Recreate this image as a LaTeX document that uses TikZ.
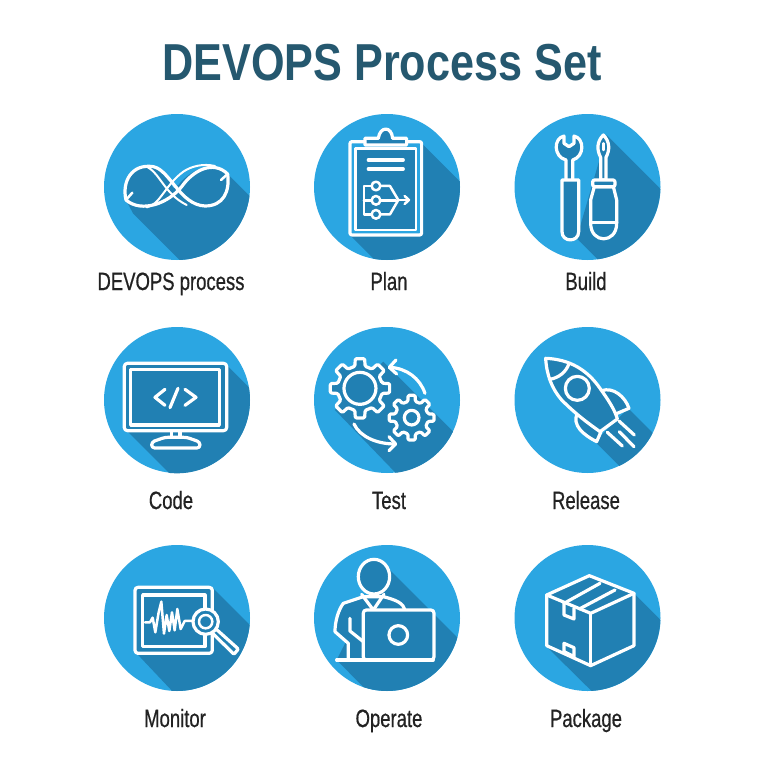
\documentclass[tikz,border=0pt]{standalone}
\usepackage{fontspec}
\newfontfamily\labfont[FakeStretch=0.74,FakeBold=0.6]{Liberation Sans}
\newfontfamily\headfont[FakeStretch=0.83]{Liberation Sans}
\definecolor{badgeblue}{HTML}{2BA6E2}
\definecolor{shadeblue}{HTML}{2180B3}
\definecolor{headcol}{HTML}{25586F}
\definecolor{labcol}{HTML}{222222}
\tikzset{
  badge/.style={circle,fill=badgeblue,minimum size=146pt,inner sep=0pt},
  lab/.style={anchor=base,text=labcol,font=\labfont\fontsize{25}{28}\selectfont},
  zoomed/.style 2 args={shift={(#1,#2)},x=0.3333pt,y=-0.3333pt},
  ink/.style={draw=white,line width=3.2pt,line join=round,line cap=round},
  inkin/.style={ink,fill=shadeblue},
  inkout/.style={ink,fill=badgeblue},
  thin ink/.style={ink,line width=2.5pt},
}
\usetikzlibrary{calc}
\newcommand{\gearicon}[5]{% x, y, tip radius, root radius, hole radius
  \draw[inkin,rounded corners=1.2pt] (#1,#2) ++(-13:#4)
    \foreach \a in {0,45,...,315} {
      -- ($(#1,#2)+(\a-13:#4)$) -- ($(#1,#2)+(\a-9:#3)$) -- ($(#1,#2)+(\a+9:#3)$) -- ($(#1,#2)+(\a+13:#4)$)
    } -- cycle;
  \draw[ink] (#1,#2) circle (#5);
}
\begin{document}
\begin{tikzpicture}[x=1pt,y=-1pt]
  \useasboundingbox (0,0) rectangle (768,768);
  \fill[white] (0,0) rectangle (768,768);
  \node (title) [anchor=base,text=headcol,font=\headfont\bfseries\fontsize{52}{56}\selectfont] at (382,81) {DEVOPS Process Set};

  % top row
  \node (devops) [badge] at (177,187) {};
  \node (plan) [badge] at (387,187) {};
  \node (build) [badge] at (587.5,187) {};
  \node (devopslab) [lab] at (171,290) {DEVOPS process};
  \node (planlab) [lab] at (389,290) {Plan};
  \node (buildlab) [lab] at (586,290) {Build};

  % middle row
  \node (code) [badge] at (177,400) {};
  \node (test) [badge] at (387,400) {};
  \node (release) [badge] at (587.5,400) {};
  \node (codelab) [lab] at (171,509) {Code};
  \node (testlab) [lab] at (389,509) {Test};
  \node (releaselab) [lab] at (586,509) {Release};

  % bottom row
  \node (monitor) [badge] at (177,618) {};
  \node (operate) [badge] at (387,618) {};
  \node (package) [badge] at (587.5,618) {};
  \node (monitorlab) [lab] at (175,727) {Monitor};
  \node (operatelab) [lab] at (389,727) {Operate};
  \node (packagelab) [lab] at (586,727) {Package};

  % infinity
  \begin{scope}[zoomed={115}{150}]
    \begin{scope}
      \clip (186,111) circle (219);
      \fill[shadeblue] (33,150) .. controls (20,95) and (50,40) .. (115,50) .. controls (140,55) and (160,85) .. (175,115) -- (190,105) .. controls (230,55) and (295,30) .. (338,72) -- (838,572) -- (554,690) -- (54,190) -- cycle;
    \end{scope}
    \draw[ink] (33,150) .. controls (20,95) and (50,40) .. (115,50) .. controls (165,60) and (195,165) .. (270,168) .. controls (325,168) and (345,125) .. (338,72);
    \draw[ink] (33,150) .. controls (80,190) and (160,160) .. (200,110) .. controls (235,60) and (295,30) .. (338,72);
    \draw[ink,line width=2pt] (90,48) .. controls (135,65) and (145,130) .. (215,165);
    \draw[ink,line width=2pt] (95,172) .. controls (135,165) and (150,105) .. (205,65) .. controls (230,48) and (265,40) .. (300,48);
    \draw[thin ink] (33,150) -- (52,128);
    \draw[thin ink] (338,72) -- (318,90);
  \end{scope}

  % clipboard
  \begin{scope}[zoomed={90}{100}]
    \begin{scope}
      \clip (891,261) circle (219);
      \fill[shadeblue] (780,405) -- (995,130) -- (1300,435) -- (1085,710) -- cycle;
    \end{scope}
    \draw[inkout,rounded corners=2pt] (780,125) rectangle (995,405);
    \draw[inkin,line width=2.4pt] (797,145) rectangle (978,390);
    \draw[inkin] (825,135) -- (825,115) -- (865,115) .. controls (870,78) and (905,78) .. (908,115) -- (950,115) -- (950,135) -- cycle;
    \draw[ink] (835,180) -- (940,180);
    \draw[ink] (835,207) -- (940,207);
    \draw[thin ink] (845,258) -- (822,258) -- (822,343) -- (845,343);
    \draw[thin ink] (822,301) -- (845,301);
    \draw[thin ink] (871,258) -- (900,258) -- (925,300) -- (900,343) -- (871,343);
    \draw[thin ink] (871,301) -- (918,301);
    \draw[thin ink] (925,300) -- (955,300);
    \draw[thin ink] (944,288) -- (957,300) -- (944,312);
    \foreach \y in {258,301,343}
      \draw[thin ink,fill=shadeblue] (858,\y) circle (13);
  \end{scope}

  % tools
  \begin{scope}[zoomed={500}{100}]
    \begin{scope}
      \clip (262,261) circle (219);
      \fill[shadeblue] (230,415) -- (320,105) -- (700,485) -- (610,795) -- cycle;
    \end{scope}
    \draw[inkin] (198,240) -- (198,180) .. controls (160,170) and (160,115) .. (192,108) -- (192,130) -- (207,140) -- (222,130) -- (222,108) .. controls (254,115) and (254,170) .. (218,180) -- (218,240);
    \draw[inkin] (186,240) -- (186,395) .. controls (186,428) and (236,428) .. (236,395) -- (236,240) -- cycle;
    \draw[inkin] (302,240) -- (302,172) .. controls (290,150) and (290,125) .. (310,105) .. controls (330,125) and (330,150) .. (318,172) -- (318,240) -- cycle;
    \draw[thin ink] (310,130) -- (310,150);
    \draw[inkin] (283,260) -- (272,300) -- (272,370) .. controls (272,432) and (350,432) .. (350,370) -- (350,300) -- (340,260) -- cycle;
    \draw[inkin,rounded corners=2pt] (278,240) rectangle (345,260);
    \draw[ink] (272,368) -- (350,368);
  \end{scope}

  % screen
  \begin{scope}[zoomed={90}{320}]
    \begin{scope}
      \clip (261,241) circle (219);
      \fill[shadeblue] (103,325) -- (410,135) -- (800,525) -- (493,715) -- cycle;
    \end{scope}
    \draw[inkin,rounded corners=3pt] (103,130) rectangle (410,332);
    \draw[inkin] (122,148) rectangle (388,315);
    \draw[ink] (225,208) -- (195,232) -- (225,256);
    \draw[ink] (264,205) -- (240,263);
    \draw[ink] (285,208) -- (318,232) -- (285,256);
    \draw[ink] (245,332) -- (245,352);
    \draw[ink] (270,332) -- (270,352);
    \draw[inkin,rounded corners=3pt] (225,352) -- (290,352) -- (330,366) -- (330,384) -- (185,384) -- (185,366) -- cycle;
  \end{scope}

  % gears
  \begin{scope}[zoomed={90}{320}]
    \begin{scope}
      \clip (891,241) circle (219);
      \fill[shadeblue] (735,270) -- (880,125) -- (1300,545) -- (1150,700) -- cycle;
    \end{scope}
    \gearicon{810}{205}{90}{68}{48}
    \gearicon{965}{293}{68}{50}{22}
    \draw[ink] (1005,220) .. controls (990,175) and (950,145) .. (900,142);
    \draw[ink] (918,120) -- (898,142) -- (920,162);
    \draw[ink] (792,312) .. controls (810,350) and (860,372) .. (915,372);
    \draw[ink] (897,350) -- (917,372) -- (897,392);
  \end{scope}

  % rocket
  \begin{scope}[zoomed={500}{320}]
    \begin{scope}
      \clip (262,241) circle (219);
      \fill[shadeblue] (385,265) -- (285,365) -- (600,680) -- (700,580) -- cycle;
    \end{scope}
    \draw[inkin] (305,212) .. controls (340,200) and (375,230) .. (387,265) -- (340,285) -- cycle;
    \draw[inkin] (232,280) .. controls (215,315) and (250,345) .. (290,365) -- (303,335) -- cycle;
    \draw[inkin] (137,115) .. controls (210,118) and (262,150) .. (300,205) .. controls (325,240) and (345,270) .. (352,297) -- (300,335) .. controls (265,310) and (230,285) .. (185,240) .. controls (155,205) and (140,165) .. (137,115) -- cycle;
    \draw[ink] (148,178) .. controls (175,175) and (200,155) .. (207,130);
    \draw[ink] (232,205) circle (36);
    \draw[ink] (357,303) -- (403,345);
    \draw[ink] (322,337) -- (367,378);
    \draw[ink] (358,335) -- (402,380);
  \end{scope}

  % scope with wave
  \begin{scope}[zoomed={90}{535}]
    \begin{scope}
      \clip (261,249) circle (219);
      \fill[shadeblue] (135,350) -- (367,157) -- (800,590) -- (560,800) -- cycle;
    \end{scope}
    \draw[inkin,rounded corners=3pt] (135,157) rectangle (367,355);
    \draw[inkin] (158,180) rectangle (345,335);
    \draw[thin ink] (165,262) -- (180,262) -- (188,248) -- (196,292) -- (206,232) -- (214,200) -- (222,296) -- (230,240) -- (238,288) -- (246,232) -- (254,286) -- (262,222) -- (272,282) -- (284,258) -- (310,258);
    \draw[ink,rounded corners=1pt] (378,282) -- (445,342) -- (432,358) -- (368,295);
    \draw[inkin] (347,260) circle (38);
    \draw[thin ink] (347,260) circle (20);
  \end{scope}

  % person with laptop
  \begin{scope}[zoomed={90}{535}]
    \begin{scope}
      \clip (891,249) circle (219);
      \fill[shadeblue] (740,375) -- (885,90) -- (1300,505) -- (1150,790) -- cycle;
    \end{scope}
    \draw[inkin] (820,185) -- (760,205) .. controls (745,225) and (735,260) .. (735,290) -- (775,325) -- (775,375) -- (830,375) -- (945,225) .. controls (940,205) and (920,195) .. (880,185) -- cycle;
    \draw[ink] (815,178) -- (850,225) -- (882,178);
    \draw[ink] (780,250) -- (780,288) -- (820,320);
    \draw[inkin] (852,125) ellipse (47 and 52);
    \draw[inkin,rounded corners=3pt] (820,225) rectangle (1032,375);
    \draw[ink] (925,300) circle (28);
    \draw[ink] (740,375) -- (1030,375);
  \end{scope}

  % box
  \begin{scope}[zoomed={500}{535}]
    \begin{scope}
      \clip (262,249) circle (219);
      \fill[shadeblue] (140,335) -- (402,175) -- (800,573) -- (540,730) -- cycle;
    \end{scope}
    \draw[inkin] (268,122) -- (402,175) -- (402,332) -- (272,392) -- (140,332) -- (140,180) -- cycle;
    \draw[ink] (140,180) -- (272,235) -- (402,175);
    \draw[ink] (272,235) -- (272,392);
    \draw[ink] (192,205) -- (300,145);
    \draw[ink] (238,222) -- (345,165);
    \draw[ink] (192,205) -- (192,240) -- (222,252) -- (222,220);
    \draw[ink] (192,325) -- (222,338) -- (222,365) -- (192,350) -- cycle;
  \end{scope}
\end{tikzpicture}
\end{document}
